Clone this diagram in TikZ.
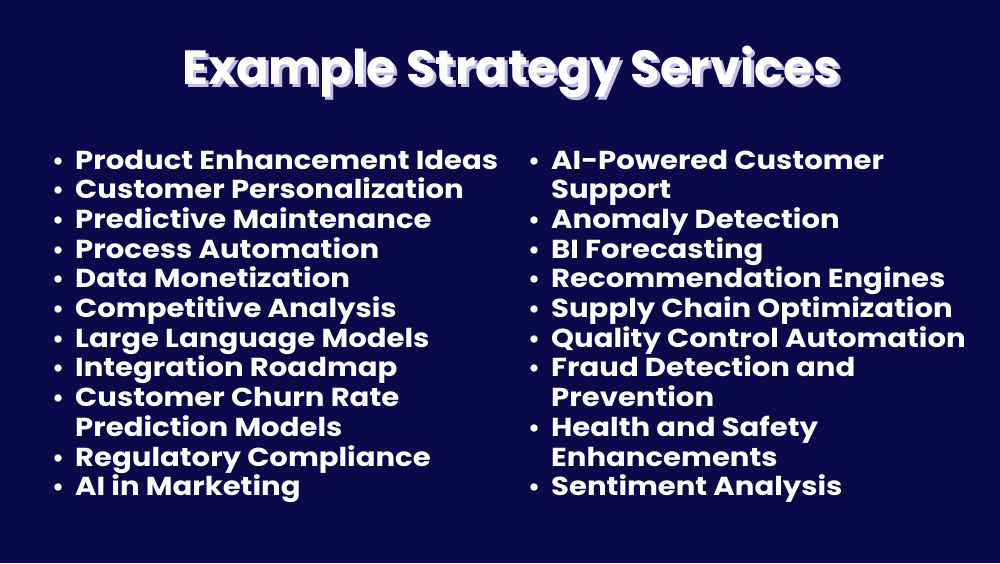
\documentclass[tikz,border=0pt]{standalone}
\usepackage{fontspec}
\setmainfont{Poppins}[UprightFont=* Bold, BoldFont=* Bold]
\newfontfamily\itemfont{Poppins}[UprightFont=* Bold, FakeStretch=1.12]
\definecolor{bg}{HTML}{0A0A4B}
\definecolor{shadow}{HTML}{C4BCEB}
\begin{document}
\begin{tikzpicture}[x=1pt,y=-1pt,
  item/.style={anchor=base west,inner sep=0pt,text=white,font=\itemfont\fontsize{26}{26}\selectfont},
  bul/.style={anchor=base west,inner sep=0pt,text=white,font=\fontsize{24}{24}\selectfont}]
\fill[bg] (0,0) rectangle (1000,563);
\useasboundingbox (0,0) rectangle (1000,563);
\node[text=shadow,font=\fontsize{48}{48}\selectfont] (tsh) at (514,75) {Example Strategy Services};
\node[text=white,font=\fontsize{48}{48}\selectfont] (title) at (511,72) {Example Strategy Services};
\foreach \t [count=\i] in {Product Enhancement Ideas,Customer Personalization,Predictive Maintenance,Process Automation,Data Monetization,Competitive Analysis,Large Language Models,Integration Roadmap,Customer Churn Rate,Regulatory Compliance,AI in Marketing}{
  \pgfmathsetmacro\yy{\i<10 ? 169+(\i-1)*29.7 : 169+\i*29.7}
  \node[bul] (lb\i) at (52,\yy) {•};
  \node[item] (l\i) at (75,\yy) {\t};
}
\node[item] (l9b) at (75,{169+9*29.7}) {Prediction Models};
\foreach \t/\r [count=\i] in {AI-Powered Customer/0,Anomaly Detection/2,BI Forecasting/3,Recommendation Engines/4,Supply Chain Optimization/5,Quality Control Automation/6,Fraud Detection and/7,Health and Safety/9,Sentiment Analysis/11}{
  \node[bul] (rb\i) at (528,{169+\r*29.7}) {•};
  \node[item] (r\i) at (551,{169+\r*29.7}) {\t};
}
\node[item] (r1b) at (551,{169+1*29.7}) {Support};
\node[item] (r7b) at (551,{169+8*29.7}) {Prevention};
\node[item] (r8b) at (551,{169+10*29.7}) {Enhancements};
\end{tikzpicture}
\end{document}
